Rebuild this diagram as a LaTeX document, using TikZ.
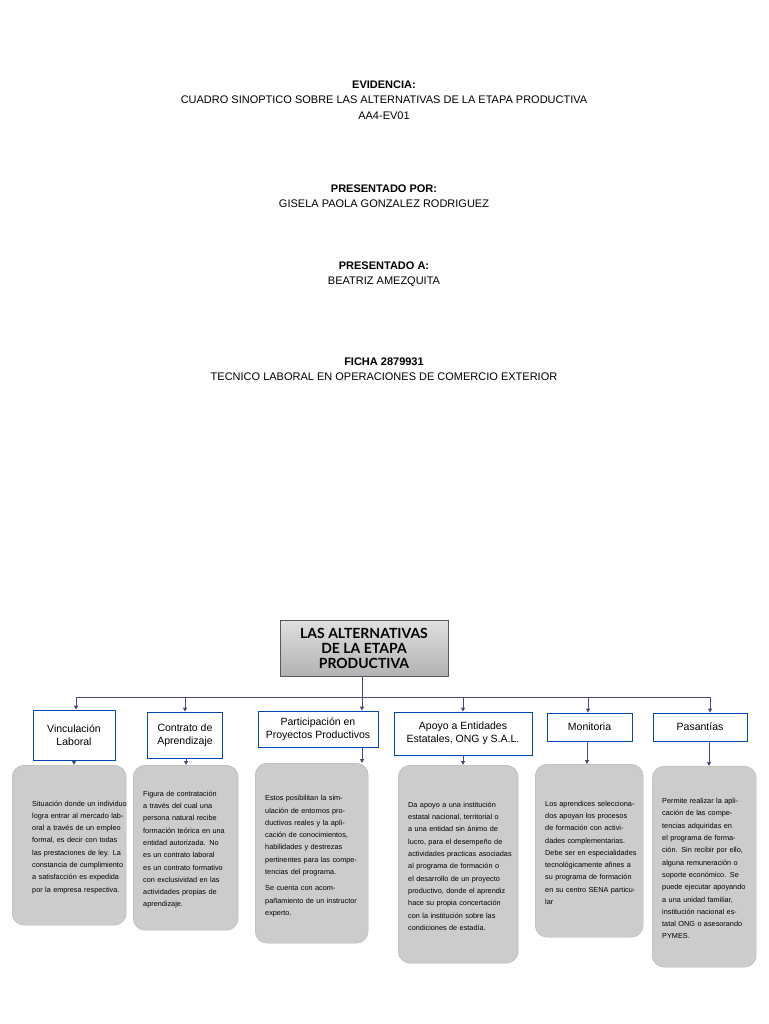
\documentclass[tikz,border=0pt]{standalone}
\usepackage{fontspec}
\setmainfont{Liberation Sans}
\newfontfamily\titlefont{Lato}
\usetikzlibrary{arrows.meta}
\begin{document}
\begin{tikzpicture}[x=1pt,y=-1pt,
  hdr/.style={draw=blue!60!cyan!70!black,line width=0.8pt,fill=white,align=center,font=\fontsize{10.5}{13}\selectfont,inner sep=2pt},
  info/.style={draw=gray!60,fill=gray!40,rounded corners=12pt,align=left,anchor=north west,font=\fontsize{7.3}{12.3}\selectfont,inner sep=0pt},
  conn/.style={draw=blue!30!gray!80!black,line width=1pt},
  arr/.style={conn,-{Triangle[length=4pt,width=4pt]}},
  top/.style={align=center,font=\fontsize{11}{15.5}\selectfont}]
\useasboundingbox (0,0) rectangle (768,1024);
\node[top] (t1) at (384,100) {\textbf{EVIDENCIA:}\\CUADRO SINOPTICO SOBRE LAS ALTERNATIVAS DE LA ETAPA PRODUCTIVA\\AA4-EV01};
\node[top] (t2) at (384,196) {\textbf{PRESENTADO POR:}\\GISELA PAOLA GONZALEZ RODRIGUEZ};
\node[top] (t3) at (384,274) {\textbf{PRESENTADO A:}\\BEATRIZ AMEZQUITA};
\node[top] (t4) at (384,369) {\textbf{FICHA 2879931}\\TECNICO LABORAL EN OPERACIONES DE COMERCIO EXTERIOR};
\node[draw=gray!70!black,top color=gray!25,bottom color=gray!60,minimum width=168pt,minimum height=56pt,align=center,
  font=\titlefont\bfseries\fontsize{14}{15}\selectfont] (title) at (364,648) {LAS ALTERNATIVAS\\DE LA ETAPA\\PRODUCTIVA};
\coordinate (bus) at (362,697);
\draw[conn] (title.south -| bus) -- (bus);
\draw[conn] (76,697) coordinate (bl) -- (710,697) coordinate (br);
\node[hdr,minimum width=82pt,minimum height=50pt] (h1) at (74,735) {Vinculación\\Laboral};
\node[hdr,minimum width=75pt,minimum height=46pt] (h2) at (185,735) {Contrato de\\Aprendizaje};
\node[hdr,minimum width=120pt,minimum height=36pt] (h3) at (318,729) {Participación en\\Proyectos Productivos};
\node[hdr,minimum width=138pt,minimum height=43pt] (h4) at (463,733.5) {Apoyo a Entidades\\Estatales, ONG y S.A.L.};
\node[hdr,minimum width=85pt,minimum height=28pt] (h5) at (589.5,727) {Monitoria};
\node[hdr,minimum width=94pt,minimum height=28pt] (h6) at (700,727) {Pasantías};
\foreach \x/\h in {76/h1,185/h2,362/h3,463/h4,588/h5,710/h6}{
  \coordinate (c\h) at (\x,697);
  \draw[arr] (c\h) -- (c\h |- \h.north);
}
\node[info,minimum width=114pt,minimum height=160pt,text width=94pt] (g1) at (12,765) {\hspace*{10pt}\parbox[t]{96pt}{\vspace*{4pt}Situación donde un individuo logra entrar al mercado laboral a través de un empleo formal, es decir con todas las prestaciones de ley. La constancia de cumplimiento a satisfacción es expedida por la empresa respectiva.}};
\node[info,minimum width=105pt,minimum height=165pt,text width=105pt] (g2) at (133,765) {\hspace*{10pt}\parbox[t]{88pt}{\vspace*{4pt}Figura de contratación a través del cual una persona natural recibe formación teórica en una entidad autorizada. No es un contrato laboral es un contrato formativo con exclusividad en las actividades propias de aprendizaje.}};
\node[info,minimum width=113pt,minimum height=180pt,text width=113pt] (g3) at (255,763) {\hspace*{10pt}\parbox[t]{95pt}{\vspace*{6pt}Estos posibilitan la simulación de entornos productivos reales y la aplicación de conocimientos, habilidades y destrezas pertinentes para las competencias del programa.\par\vspace{4pt}Se cuenta con acompañamiento de un instructor experto.}};
\node[info,minimum width=120pt,minimum height=198pt,text width=120pt] (g4) at (398,765) {\hspace*{10pt}\parbox[t]{104pt}{\vspace*{4pt}Da apoyo a una institución estatal nacional, territorial o a una entidad sin ánimo de lucro, para el desempeño de actividades practicas asociadas al programa de formación o el desarrollo de un proyecto productivo, donde el aprendiz hace su propia concertación con la institución sobre las condiciones de estadía.}};
\node[info,minimum width=108pt,minimum height=173pt,text width=108pt] (g5) at (535,764) {\hspace*{10pt}\parbox[t]{92pt}{\vspace*{4pt}Los aprendices seleccionados apoyan los procesos de formación con actividades complementarias. Debe ser en especialidades tecnológicamente afines a su programa de formación en su centro SENA particular}};
\node[info,minimum width=104pt,minimum height=201pt,text width=104pt] (g6) at (652,766) {\hspace*{10pt}\parbox[t]{86pt}{\vspace*{4pt}Permite realizar la aplicación de las competencias adquiridas en el programa de formación. Sin recibir por ello, alguna remuneración o soporte económico. Se puede ejecutar apoyando a una unidad familiar, institución nacional estatal ONG o asesorando PYMES.}};
\foreach \x/\h/\g in {74/h1/g1,186/h2/g2,362/h3/g3,463/h4/g4,587/h5/g5,709/h6/g6}{
  \draw[arr] (\x,0 |- \h.south) -- (\x,0 |- \g.north);
}
\end{tikzpicture}
\end{document}
